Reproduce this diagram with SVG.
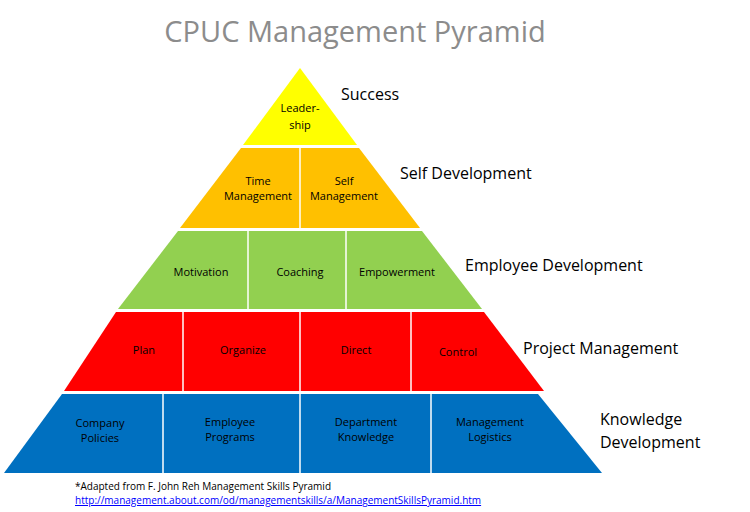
<svg xmlns="http://www.w3.org/2000/svg" width="750" height="512" viewBox="0 0 750 512">
<style>
.t{font-family:"Open Sans","Liberation Sans",sans-serif;font-size:11px;fill:#000;text-anchor:middle}
.l{font-family:"Open Sans","Liberation Sans",sans-serif;font-size:16px;fill:#000}
.d{stroke:#fff;stroke-width:1.5}
</style>
<rect width="750" height="512" fill="#fff"/>
<text x="355" y="42" style="font-family:'Open Sans','Liberation Sans',sans-serif;font-size:29px;fill:#8c8c8c;text-anchor:middle">CPUC Management Pyramid</text>
<g id="success"><polygon points="300,68 243,145 357,145" fill="#ffff00"/><text class="t" x="300" y="112">Leader-</text><text class="t" x="300" y="129">ship</text><text class="l" x="341" y="100">Success</text></g>
<g id="self"><polygon points="241,148 359,148 420,228 180,228" fill="#ffc000"/><line class="d" x1="300" y1="148" x2="300" y2="228"/><text class="t" x="258" y="185">Time</text><text class="t" x="258" y="200">Management</text><text class="t" x="344" y="185">Self</text><text class="t" x="344" y="200">Management</text><text class="l" x="400" y="179">Self Development</text></g>
<g id="employee"><polygon points="178,231 422,231 482,309 118,309" fill="#92d050"/><line class="d" x1="248" y1="231" x2="248" y2="309"/><line class="d" x1="346" y1="231" x2="346" y2="309"/><text class="t" x="201" y="276">Motivation</text><text class="t" x="300" y="276">Coaching</text><text class="t" x="397" y="276">Empowerment</text><text class="l" x="465" y="271">Employee Development</text></g>
<g id="project"><polygon points="116,312 484,312 544,391 64,391" fill="#ff0000"/><line class="d" x1="183" y1="312" x2="183" y2="391"/><line class="d" x1="300" y1="312" x2="300" y2="391"/><line class="d" x1="411" y1="312" x2="411" y2="391"/><text class="t" x="144" y="354">Plan</text><text class="t" x="243" y="354">Organize</text><text class="t" x="356" y="354">Direct</text><text class="t" x="458" y="356">Control</text><text class="l" x="523" y="354">Project Management</text></g>
<g id="knowledge"><polygon points="62,394 538,394 602,473 4,473" fill="#0070c0"/><line class="d" x1="163" y1="394" x2="163" y2="473"/><line class="d" x1="300" y1="394" x2="300" y2="473"/><line class="d" x1="431" y1="394" x2="431" y2="473"/><text class="t" x="100" y="427">Company</text><text class="t" x="100" y="442">Policies</text><text class="t" x="230" y="426">Employee</text><text class="t" x="230" y="441">Programs</text><text class="t" x="366" y="426">Department</text><text class="t" x="366" y="441">Knowledge</text><text class="t" x="490" y="426">Management</text><text class="t" x="490" y="441">Logistics</text><text class="l" x="600" y="425">Knowledge</text><text class="l" x="600" y="448">Development</text></g>
<g id="footer"><text x="75" y="490" style="font-family:'Open Sans','Liberation Sans',sans-serif;font-size:10px;fill:#000">*Adapted from F. John Reh Management Skills Pyramid</text><text x="75" y="504" text-decoration="underline" style="font-family:'Open Sans','Liberation Sans',sans-serif;font-size:10px;fill:#0000ff">http://management.about.com/od/managementskills/a/ManagementSkillsPyramid.htm</text></g>
<g id="connectors"/>
</svg>
